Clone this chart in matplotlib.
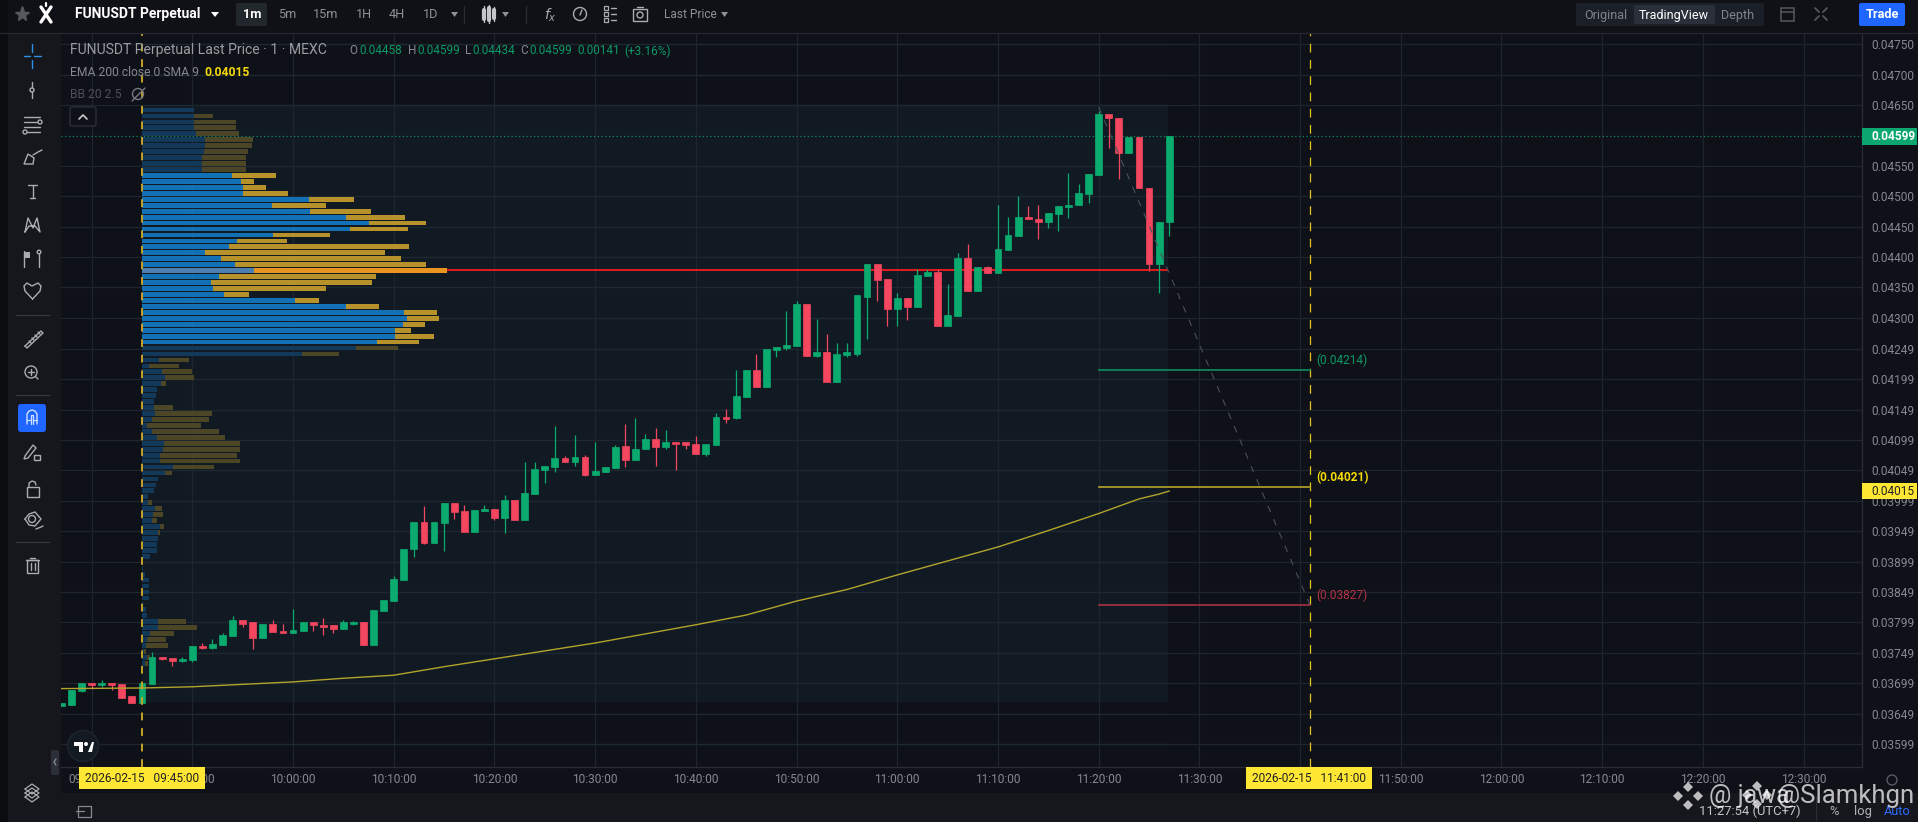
import matplotlib

matplotlib.use("Agg")
import matplotlib.pyplot as plt
import numpy as np
from matplotlib.patches import Circle, FancyBboxPatch, Polygon, Rectangle

plt.rcParams["font.family"] = ["Roboto", "DejaVu Sans"]

W, H = 1918, 822
BG = "#0e1117"
PANEL = "#15171c"
GRID = "#1f252d"
TXT = "#85888e"
ICON = "#a9acb1"
GREEN = "#0bab70"
RED = "#f4465f"
YELLOW = "#ffe733"

# candles, one per minute (minutes after midnight), prices in 1e-5
first_minute = 577
opens = [3662, 3663, 3686, 3700, 3696, 3700, 3697, 3677, 3666, 3697, 3742, 3740, 3736, 3737, 3760, 3757,
         3762, 3777, 3803, 3799, 3774, 3797, 3785, 3782, 3785, 3800, 3795, 3794, 3788, 3797, 3799, 3762,
         3818, 3834, 3869, 3919, 3964, 3930, 3962, 3996, 3982, 3948, 3982, 3986, 3971, 4000, 3967, 4010,
         4050, 4055, 4070, 4062, 4071, 4041, 4046, 4053, 4089, 4066, 4084, 4101, 4087, 4096, 4095, 4093,
         4076, 4091, 4137, 4135, 4170, 4214, 4187, 4247, 4250, 4254, 4323, 4238, 4244, 4195, 4239, 4241,
         4335, 4389, 4364, 4314, 4332, 4318, 4369, 4376, 4287, 4303, 4399, 4344, 4383, 4374, 4412, 4435,
         4466, 4463, 4458, 4471, 4482, 4485, 4503, 4535, 4636, 4629, 4571, 4598, 4514, 4388, 4458]
highs = [3666, 3688, 3700, 3700, 3704, 3700, 3697, 3677, 3699, 3751, 3742, 3740, 3742, 3760, 3765, 3771,
         3781, 3810, 3803, 3800, 3797, 3803, 3796, 3821, 3800, 3800, 3806, 3794, 3803, 3802, 3799, 3820,
         3836, 3875, 3920, 3964, 3991, 3964, 3996, 3996, 3992, 3984, 3992, 3986, 4008, 4000, 4062, 4062,
         4056, 4122, 4073, 4107, 4074, 4096, 4055, 4091, 4125, 4136, 4109, 4119, 4116, 4096, 4095, 4106,
         4093, 4144, 4150, 4214, 4214, 4240, 4249, 4252, 4311, 4328, 4323, 4298, 4273, 4259, 4259, 4337,
         4389, 4389, 4364, 4341, 4332, 4380, 4380, 4380, 4356, 4406, 4421, 4383, 4385, 4486, 4466, 4500,
         4484, 4485, 4472, 4484, 4538, 4520, 4537, 4640, 4636, 4629, 4598, 4598, 4514, 4457, 4599]
lows = [3661, 3663, 3684, 3689, 3692, 3688, 3674, 3666, 3666, 3697, 3737, 3727, 3734, 3733, 3755, 3755,
        3762, 3776, 3792, 3755, 3774, 3783, 3782, 3782, 3785, 3785, 3778, 3782, 3788, 3794, 3762, 3762,
        3818, 3834, 3869, 3907, 3928, 3930, 3917, 3969, 3948, 3948, 3982, 3968, 3946, 3968, 3967, 4010,
        4029, 4047, 4062, 4056, 4039, 4041, 4046, 4053, 4055, 4066, 4084, 4056, 4085, 4050, 4084, 4076,
        4073, 4091, 4127, 4133, 4170, 4187, 4187, 4235, 4247, 4254, 4238, 4235, 4195, 4195, 4235, 4238,
        4265, 4328, 4287, 4287, 4297, 4318, 4369, 4287, 4287, 4303, 4344, 4344, 4374, 4374, 4412, 4435,
        4462, 4429, 4448, 4443, 4464, 4485, 4489, 4535, 4580, 4528, 4571, 4513, 4377, 4341, 4434]
closes = [3666, 3688, 3700, 3696, 3700, 3696, 3675, 3666, 3699, 3742, 3739, 3736, 3739, 3760, 3757, 3763,
          3778, 3803, 3797, 3774, 3797, 3783, 3782, 3787, 3800, 3794, 3792, 3788, 3799, 3800, 3762, 3820,
          3836, 3871, 3920, 3964, 3930, 3964, 3996, 3981, 3948, 3984, 3986, 3971, 4000, 3968, 4011, 4051,
          4056, 4070, 4062, 4071, 4041, 4048, 4055, 4088, 4066, 4085, 4101, 4087, 4096, 4093, 4091, 4076,
          4093, 4137, 4134, 4171, 4214, 4187, 4249, 4252, 4255, 4323, 4238, 4244, 4195, 4241, 4243, 4337,
          4389, 4363, 4314, 4332, 4318, 4371, 4376, 4287, 4304, 4399, 4344, 4383, 4374, 4414, 4437, 4466,
          4462, 4458, 4472, 4484, 4486, 4505, 4537, 4636, 4629, 4571, 4598, 4513, 4388, 4457, 4599]

# EMA 200, read at these minutes, prices in 1e-5
ema_minutes = [577, 585, 590, 595, 600, 605, 610, 615, 620, 625, 630, 635, 640, 645, 650, 655, 660, 665,
               670, 675, 680, 684, 686, 687]
ema_values = [3690, 3691, 3693, 3697, 3701, 3707, 3712, 3726, 3739, 3752, 3765, 3780, 3795, 3811, 3834,
              3853, 3877, 3900, 3923, 3950, 3978, 4002, 4010, 4015]

# volume profile rows from the top row down, arbitrary units
profile_up = [155, 155, 155, 155, 162, 188, 188, 185, 179, 179, 179, 269, 297, 303, 303, 500, 390, 505, 612,
              680, 624, 393, 286, 261, 188, 236, 278, 336, 230, 207, 213, 246, 458, 612, 786, 795, 783, 759,
              759, 705, 642, 480, 51, 21, 60, 69, 58, 44, 41, 35, 36, 39, 30, 15, 30, 45, 66, 63, 54, 54, 93,
              69, 47, 42, 36, 18, 18, 39, 33, 30, 54, 49, 49, 44, 44, 24, 3, 2, 9, 21, 21, 21, 21, 4, 11, 15,
              47, 47, 24, 15, 12, 6, 14, 9]
profile_down = [0, 58, 127, 127, 129, 145, 142, 132, 133, 133, 133, 132, 39, 69, 134, 135, 161, 181, 177,
                171, 174, 171, 149, 539, 540, 540, 573, 580, 472, 482, 338, 74, 73, 98, 99, 96, 65, 47, 117,
                126, 126, 110, 89, 90, 90, 87, 14, 0, 0, 0, 57, 170, 171, 161, 200, 204, 228, 231, 231, 240,
                123, 21, 0, 0, 0, 0, 12, 21, 30, 15, 12, 5, 0, 0, 0, 0, 0, 0, 0, 0, 0, 0, 0, 0, 0, 0, 85, 118,
                71, 57, 66, 6, 10, 10]
profile_top = 0.046419
profile_step = 0.0000979
value_area = (11, 39)
poc_row = 27

price_ticks = [0.0475, 0.047, 0.0465, 0.0455, 0.045, 0.0445, 0.044, 0.0435, 0.043, 0.04249, 0.04199, 0.04149,
               0.04099, 0.04049, 0.03999, 0.03949, 0.03899, 0.03849, 0.03799, 0.03749, 0.03699, 0.03649, 0.03599]
time_ticks = [580, 590, 600, 610, 620, 630, 640, 650, 660, 670, 680, 690, 700, 710, 720, 730, 740, 750]
time_labels = ["09:40:00", "09:50:00", "10:00:00", "10:10:00", "10:20:00", "10:30:00", "10:40:00", "10:50:00",
               "11:00:00", "11:10:00", "11:20:00", "11:30:00", "11:40:00", "11:50:00", "12:00:00", "12:10:00",
               "12:20:00", "12:30:00"]

last_price = 0.04599
poc_price = 0.04378
start_minute = 585
session_end = 686.9
end_minute = 701
drawing_minute = 680
levels = [(0.04214, "#0f8f5c", "(0.04214)", "#0c9a66"), (0.04021, "#b9a52c", "(0.04021)", "#f5d90a"),
          (0.03827, "#a83243", "(0.03827)", "#b53349")]
wave_prices = [0.04647, 0.03827]

fig = plt.figure(figsize=(W / 100, H / 100), dpi=100, facecolor=BG)
ax = fig.add_axes([61 / W, 1 - 767 / H, (1862 - 61) / W, (767 - 33) / H], facecolor=BG)
ax.set_xlim(576.96, 755.8)
ax.set_ylim(0.03561, 0.047686)

ax.set_yticks(price_ticks)
ax.set_yticklabels([f"{p:.5f}" for p in price_ticks])
ax.set_xticks(time_ticks)
ax.set_xticklabels(time_labels)
ax.yaxis.tick_right()
ax.tick_params(axis="both", length=0, colors=TXT, labelsize=8.6)
ax.tick_params(axis="y", pad=6.5)
ax.tick_params(axis="x", pad=4)
ax.grid(True, color=GRID, linewidth=0.9, zorder=1)
ax.set_axisbelow(True)
for side in ("left", "top"):
    ax.spines[side].set_visible(False)
for side in ("right", "bottom"):
    ax.spines[side].set_color("#2a2d33")
    ax.spines[side].set_linewidth(0.9)

# session box behind candles
ax.axvspan(start_minute, session_end, ymin=(0.036686 - 0.03561) / (0.047686 - 0.03561),
           ymax=(0.0465 - 0.03561) / (0.047686 - 0.03561), facecolor="#111a22", edgecolor="none", zorder=0.5)
ax.hlines(price_ticks, start_minute, session_end, color="#1e2831", linewidth=0.9, zorder=0.6)

# volume profile
unit = 1 / (3 * 10.07)
up = np.array(profile_up) * unit
down = np.array(profile_down) * unit
rows = profile_top - np.arange(len(up)) * profile_step
in_area = (np.arange(len(up)) >= value_area[0]) & (np.arange(len(up)) <= value_area[1])
up_colors = np.where(in_area, "#1270b5", "#13395a")
down_colors = np.where(in_area, "#b7922a", "#4c4526")
up_colors[poc_row] = "#4c7fae"
down_colors[poc_row] = "#e8941e"
bar_height = profile_step * 0.8
ax.barh(rows, up, left=start_minute, height=bar_height, color=up_colors, linewidth=0, zorder=2)
ax.barh(rows, down, left=start_minute + up, height=bar_height, color=down_colors, linewidth=0, zorder=2)
ax.plot([start_minute + up[poc_row] + down[poc_row], session_end], [poc_price, poc_price], color="#dc1a20", lw=1.5,
        solid_capstyle="butt", zorder=3)

# candles
minutes = first_minute + np.arange(len(opens))
o = np.array(opens) * 1e-5
h = np.array(highs) * 1e-5
l = np.array(lows) * 1e-5
c = np.array(closes) * 1e-5
colors = np.where(c >= o, GREEN, RED)
ax.vlines(minutes, l, h, colors=colors, linewidth=0.9, zorder=4)
ax.bar(minutes, np.abs(c - o), bottom=np.minimum(o, c), width=0.68, color=colors, edgecolor=colors,
       linewidth=0.5, zorder=5)

# EMA
ax.plot(ema_minutes, np.array(ema_values) * 1e-5, color="#b3a42c", lw=1.0, zorder=6)

# last price and drawings
ax.axhline(last_price, color="#0e8a5f", lw=0.9, ls=(0, (1, 2)), zorder=3)
ax.axvline(start_minute, color="#c6a227", lw=1.4, ls=(0, (4, 4)), zorder=6)
ax.axvline(end_minute, color="#e6c21f", lw=0.9, ls=(0, (7, 6)), zorder=6)
ax.plot([drawing_minute, end_minute], wave_prices, color="#4b5059", lw=0.8, ls=(0, (6, 7)), zorder=6)
for price, line_color, text, label_color in levels:
    ax.plot([drawing_minute, end_minute], [price, price], color=line_color, lw=1.2, zorder=6)
    ax.annotate(text, (end_minute, price), xytext=(4.5, 7.2), textcoords="offset points", color=label_color,
                fontsize=8.6, va="center", ha="left", fontweight="bold" if "f5" in label_color else "normal")

# UI chrome, drawn in pixel coordinates
ui = fig.add_axes([0, 0, 1, 1], facecolor="none")
ui.set_xlim(0, W)
ui.set_ylim(H, 0)
ui.axis("off")


def box(x0, y0, x1, y1, color, edge="none", z=2, lw=0.8, rounded=2):
    ui.add_patch(FancyBboxPatch((x0 + rounded, y0 + rounded), x1 - x0 - 2 * rounded, y1 - y0 - 2 * rounded,
                                boxstyle=f"round,pad={rounded}", facecolor=color, edgecolor=edge, linewidth=lw,
                                zorder=z))


def stroke(xs, ys, color=ICON, lw=1.0, z=6):
    ui.plot(xs, ys, color=color, lw=lw, zorder=z, solid_capstyle="round")


def label(x, y, s, color=TXT, size=9, ha="left", weight="normal", z=7):
    ui.text(x, y, s, color=color, fontsize=size, ha=ha, va="center", fontweight=weight, zorder=z)


ui.add_patch(Rectangle((0, 0), W, 33, facecolor="#0f1116", zorder=1))
stroke([0, W], [33, 33], "#24272d", 0.9, 2)
ui.add_patch(Rectangle((8, 33), 53, H - 33, facecolor=PANEL, zorder=1))
ui.add_patch(Rectangle((0, 0), 8, H, facecolor="#0b0d11", zorder=1.2))
ui.add_patch(Rectangle((61, 793), W - 61, 29, facecolor=PANEL, zorder=1))

# top bar
ui.plot([22], [14], marker="*", ms=11, color="#55585e", zorder=6)
stroke([41, 51], [7, 22], "white", 2.4)
stroke([51, 41], [7, 22], "white", 2.4)
stroke([46, 46], [3, 6], "white", 1.6)
label(75, 14, "FUNUSDT Perpetual", "white", 10, weight="bold")
ui.add_patch(Polygon([[211, 12], [219, 12], [215, 17]], facecolor="white", zorder=6))
box(236, 3, 267, 26, "#22262d")
label(252, 14, "1m", "white", 9.2, "center", "bold")
for x, s in [(287, "5m"), (326, "15m"), (364, "1H"), (397, "4H"), (431, "1D")]:
    label(x, 14, s, "#8d9096", 9.2, "center")
ui.add_patch(Polygon([[451, 12], [458, 12], [454.5, 17]], facecolor="#8d9096", zorder=6))
for sep_x in (464, 526):
    stroke([sep_x, sep_x], [6, 23], "#2a2d33", 0.9)
for x, y0, y1, w0, w1 in [(484, 6, 22, 10, 19), (489, 5, 23, 8, 20), (494, 7, 21, 10, 18)]:
    stroke([x, x], [y0, y1], "#c4c6ca", 1)
    stroke([x, x], [w0, w1], "#c4c6ca", 3)
ui.add_patch(Polygon([[502, 12], [509, 12], [505.5, 17]], facecolor="#8d9096", zorder=6))
label(550, 15, "$f_x$", ICON, 10, "center")
ui.add_patch(Circle((580, 14), 6.5, fill=False, edgecolor=ICON, lw=1, zorder=6))
stroke([580, 582], [15, 10])
for y in (8, 14, 20):
    ui.add_patch(Rectangle((604, y - 2), 4, 4, fill=False, edgecolor=ICON, lw=0.9, zorder=6))
    stroke([611, 616], [y, y])
ui.add_patch(Rectangle((633, 9), 14, 12, fill=False, edgecolor=ICON, lw=1, zorder=6))
ui.add_patch(Circle((640, 15), 3, fill=False, edgecolor=ICON, lw=1, zorder=6))
stroke([637, 643], [7, 7])
label(664, 14, "Last Price", "#8d9096", 8.6)
ui.add_patch(Polygon([[721, 12], [728, 12], [724.5, 17]], facecolor="#8d9096", zorder=6))

box(1576, 3, 1764, 26, "#1b2028")
box(1634, 5, 1715, 24, "#2a303a", z=3)
label(1606, 15, "Original", "#7f858d", 9, "center")
label(1674, 15, "TradingView", "white", 9, "center")
label(1738, 15, "Depth", "#7f858d", 9, "center")
ui.add_patch(Rectangle((1781, 8), 13, 13, fill=False, edgecolor="#55585e", lw=1.1, zorder=6))
stroke([1781, 1794], [12, 12], "#55585e", 1.1)
for dx, dy in [(-1, -1), (1, -1), (-1, 1), (1, 1)]:
    stroke([1821 + 2 * dx, 1821 + 6 * dx], [14 + 2 * dy, 14 + 6 * dy], "#55585e", 1.3)
box(1859, 3, 1905, 26, "#1e66ff")
label(1882, 14, "Trade", "white", 9.2, "center", "bold")

# legend lines
label(70, 50, "FUNUSDT Perpetual Last Price · 1 · MEXC", "#999ca1", 10.1)
for x, s in [(349, "O"), (408, "H"), (465, "L"), (520, "C")]:
    label(x, 51, s, "#85888e", 8.5)
for x, s in [(359, "0.04458"), (417, "0.04599"), (472, "0.04434"), (529, "0.04599"), (577, "0.00141"),
             (624, "(+3.16%)")]:
    label(x, 51, s, "#0c9a66", 8.5)
label(70, 72.5, "EMA 200 close 0 SMA 9", "#85888e", 8.7)
label(204, 72.5, "0.04015", "#f5d90a", 8.7, weight="bold")
label(70, 94, "BB 20 2.5", "#4e5157", 8.7)
ui.add_patch(Circle((138, 94), 5.5, fill=False, edgecolor="#75787e", lw=1, zorder=6))
stroke([132, 145], [101, 88], "#75787e", 1)
box(70, 107, 96, 126, BG, "#33363c", z=4)
stroke([79, 83, 87], [119, 115, 119], "#c9cbcf", 1.2)

# left toolbar icons
stroke([32, 32], [44, 52], "#2f8fe6", 1)
stroke([32, 32], [60, 68], "#2f8fe6", 1)
stroke([24, 30], [56, 56], "#2f8fe6", 1)
stroke([34, 41], [56, 56], "#2f8fe6", 1)
stroke([32, 32], [82, 98])
ui.add_patch(Circle((32, 90), 2, facecolor=PANEL, edgecolor=ICON, lw=1, zorder=7))
for y, x0 in [(117, 24), (122, 24), (127, 24), (132, 24)]:
    stroke([x0, 40], [y, y])
ui.add_patch(Circle((40, 122), 2, facecolor=PANEL, edgecolor=ICON, lw=1, zorder=7))
ui.add_patch(Circle((25, 132), 2, facecolor=PANEL, edgecolor=ICON, lw=1, zorder=7))
ui.add_patch(Polygon([[24, 164], [28, 154], [34, 158], [33, 164]], fill=False, edgecolor=ICON, lw=1, zorder=6))
stroke([33, 38, 42], [155, 152, 150])
stroke([28, 37], [185, 185])
stroke([32.5, 32.5], [185, 198])
stroke([30, 35], [198, 198])
stroke([25, 28, 33, 37, 40, 35, 29, 25], [232, 218, 228, 218, 232, 226, 226, 232])
stroke([24, 24], [251, 267])
ui.add_patch(Rectangle((24, 252), 6, 6, facecolor=ICON, zorder=6))
stroke([39, 39], [252, 267])
ui.add_patch(Circle((39, 252), 1.8, facecolor=PANEL, edgecolor=ICON, lw=1, zorder=7))
stroke([32.5, 25, 24, 27, 32, 38, 41, 40, 32.5], [299, 291, 286, 283, 286, 283, 286, 291, 299])
for y in (315, 395, 542):
    stroke([16, 49], [y, y], "#34373d", 0.9)
stroke([25, 41, 43, 27, 25], [346, 331, 333, 348, 346])
for i in range(4):
    stroke([29 + 3 * i, 31 + 3 * i], [341 - 3 * i, 343 - 3 * i])
ui.add_patch(Circle((31, 372), 6, fill=False, edgecolor=ICON, lw=1, zorder=6))
stroke([35.5, 38], [376.5, 379])
stroke([28, 34], [372, 372])
stroke([31, 31], [369, 375])
box(18, 404, 46, 432, "#1e66ff", rounded=3)
stroke([27, 27, 29, 32, 35, 37, 37], [424, 414, 411, 410, 411, 414, 424], "#cfe0ff", 1)
stroke([31, 31, 33, 33], [424, 415, 415, 424], "#cfe0ff", 0.9)
stroke([27, 31], [420, 420], "#cfe0ff", 0.9)
stroke([33, 37], [420, 420], "#cfe0ff", 0.9)
ui.add_patch(Polygon([[25, 456], [33, 445], [36, 448], [28, 458], [24, 459]], fill=False, edgecolor=ICON, lw=1,
                     zorder=6))
ui.add_patch(Rectangle((33.5, 455), 6, 5, fill=False, edgecolor=ICON, lw=1, zorder=6))
ui.add_patch(Rectangle((26.5, 487), 12, 10, fill=False, edgecolor=ICON, lw=1, zorder=6))
stroke([29, 29, 32, 35, 36], [487, 483, 481, 482, 485])
ui.add_patch(Circle((32, 519), 3.5, fill=False, edgecolor=ICON, lw=1, zorder=6))
stroke([25, 29, 35, 41, 35, 29, 25], [519, 514, 512, 519, 526, 525, 519])
stroke([36, 41, 43], [529, 527, 526])
ui.add_patch(Rectangle((27, 560), 11, 13, fill=False, edgecolor=ICON, lw=1, zorder=6))
stroke([26, 39], [560, 560])
stroke([30, 35], [558, 558])
stroke([31, 31], [563, 570])
stroke([34.5, 34.5], [563, 570])
for y in (789, 793, 797):
    stroke([25, 32, 39, 32, 25], [y, y - 5, y, y + 5, y], "#a9acb1", 0.9)
ui.add_patch(Rectangle((78, 806), 13, 11, fill=False, edgecolor="#85888e", lw=0.9, zorder=6))
stroke([76, 84], [811, 811], "#85888e", 0.9)

# tradingview badge and collapse handle
ui.add_patch(Circle((83, 746), 15.5, facecolor="#141a21", edgecolor="#1e252d", lw=1, zorder=6))
ui.add_patch(Polygon([[74, 742], [83, 742], [83, 752], [79, 752], [79, 746], [74, 746]], facecolor="white", zorder=7))
ui.add_patch(Circle((86, 744), 2, facecolor="white", zorder=7))
ui.add_patch(Polygon([[88, 752], [92, 742], [94, 742], [92, 752]], facecolor="white", zorder=7))
box(51, 750, 59, 775, "#2a2f38")
stroke([56, 54, 56], [759, 762, 765], "#8d9096", 0.9)

# axis tags
for x0, x1, s in [(79, 205, "2026-02-15   09:45:00"), (1246, 1372, "2026-02-15   11:41:00")]:
    ui.add_patch(Rectangle((x0, 767), x1 - x0, 22, facecolor=YELLOW, zorder=5))
    label((x0 + x1) / 2, 778.5, s, "#222222", 8.6, "center")
ui.add_patch(Rectangle((1862, 128), 55, 17, facecolor="#0ca66f", zorder=5))
label(1871, 136.8, "0.04599", "white", 8.6, weight="bold")
ui.add_patch(Rectangle((1862, 483), 55, 16, facecolor=YELLOW, zorder=5))
label(1871, 491.3, "0.04015", "#222222", 8.6)

# bottom right controls
ui.add_patch(Circle((1892, 780), 5, fill=False, edgecolor="#5d6066", lw=0.9, zorder=6))
label(1699, 811, "11:27:54 (UTC+7)", "#c4c6ca", 9.4)
stroke([1816, 1816], [797, 820], "#2a2d33", 0.9)
label(1834, 811, "%", "#aeb1b6", 9.4, "center")
label(1863, 811, "log", "#aeb1b6", 9.4, "center")
label(1897, 811, "Auto", "#2f6bff", 9.2, "center")

# watermark
for cx, cy in [(1688, 796), (1757, 795)]:
    for dx, dy in [(0, -9), (0, 9), (-10, 0), (10, 0)]:
        ui.add_patch(Polygon([[cx + dx, cy + dy - 5], [cx + dx + 5, cy + dy], [cx + dx, cy + dy + 5],
                              [cx + dx - 5, cy + dy]], facecolor="white", alpha=0.72, zorder=8))
ui.text(1709, 796, "@ jawa", color="white", alpha=0.72, fontsize=18, va="center", zorder=8)
ui.text(1777, 796, "@Slamkhgn X", color="white", alpha=0.72, fontsize=18.5, va="center", zorder=8)

fig.savefig("out.png", dpi=100, facecolor=BG)
